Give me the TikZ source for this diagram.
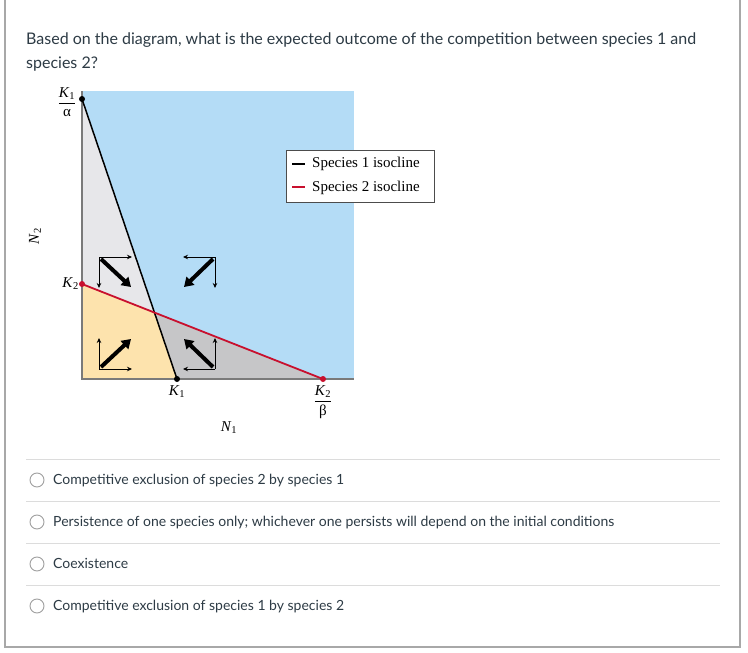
\documentclass[tikz,border=0pt]{standalone}
\usepackage{fontspec}
\newfontfamily\lato{Lato}
\newfontfamily\libser{Liberation Serif}
\usetikzlibrary{arrows.meta}
\definecolor{skyb}{HTML}{B4DCF6}
\definecolor{lgray}{HTML}{E7E7EA}
\definecolor{dgray}{HTML}{C6C6C8}
\definecolor{peach}{HTML}{FDE3AD}
\definecolor{isored}{HTML}{C8102E}
\definecolor{framec}{HTML}{A8A8A8}
\definecolor{sepc}{HTML}{DCDCDC}
\definecolor{radioc}{HTML}{A0A0A0}
\definecolor{qtext}{HTML}{2D3B45}
\definecolor{axisc}{HTML}{7A7A7A}
\newcommand{\Kk}[1]{\textit{K}\textsubscript{#1}}
\newcommand{\myfrac}[2]{$\displaystyle\frac{\mbox{#1}}{\mbox{#2}}$}
\tikzset{
  qstyle/.style={anchor=base west, inner sep=0pt, font=\lato\fontsize{16}{19}\selectfont, text=qtext},
  optstyle/.style={anchor=base west, inner sep=0pt, font=\lato\fontsize{14}{17}\selectfont, text=qtext},
  radiobtn/.style={circle, draw=radioc, line width=0.9pt, fill=white, minimum size=14pt, inner sep=0pt},
  sepline/.style={sepc, line width=1pt},
  axisline/.style={axisc, line width=1.6pt},
  isoone/.style={black, line width=1.5pt},
  isotwo/.style={isored, line width=1.8pt},
  lbl/.style={inner sep=0pt, font=\libser\fontsize{15}{17}\selectfont},
  thinarr/.style={line width=0.8pt, -{Stealth[length=5pt,width=4.5pt]}},
  thickarr/.style={line width=4pt, -{Triangle[length=9pt,width=11pt]}},
  dotb/.style={circle, fill=black, minimum size=6pt, inner sep=0pt},
  dotr/.style={circle, fill=isored, minimum size=6pt, inner sep=0pt},
}
\begin{document}
\begin{tikzpicture}[x=1pt,y=-1pt]
\useasboundingbox (0,0) rectangle (748,653);
\fill[white] (0,0) rectangle (748,653);
\draw[framec, line width=1.5pt] (5,0) -- (5,647) -- (740,647) -- (740,0);
% question
\node[qstyle] (q1) at (26,44.5) {Based on the diagram, what is the expected outcome of the competition between species 1 and};
\node[qstyle] (q2) at (26,68) {species 2?};
% diagram points
\coordinate (O) at (82,379);
\coordinate (A) at (82,99);
\coordinate (B) at (177,379);
\coordinate (C) at (82,284);
\coordinate (D) at (323,379);
\coordinate (I) at (intersection of A--B and C--D);
\fill[skyb] (82,91) rectangle (354,379);
\fill[lgray] (A) -- (I) -- (C) -- cycle;
\fill[peach] (C) -- (I) -- (B) -- (O) -- cycle;
\fill[dgray] (I) -- (D) -- (B) -- cycle;
\draw[axisline] (82,91) -- (O) -- (354,379);
\draw[isoone] (A) -- (B);
\draw[isotwo] (C) -- (D);
\node[dotb] (pA) at (A) {};
\node[dotb] (pB) at (B) {};
\node[dotr] (pC) at (C) {};
\node[dotr] (pD) at (D) {};
% vector arrows
% upper left
\coordinate (ul) at (99,257);
\coordinate (ulx) at (132,257);
\coordinate (uly) at (99,288);
\coordinate (ult) at (131,287);
\draw[thinarr] (ul) -- (ulx);
\draw[thinarr] (ul) -- (uly);
\draw[thickarr] (101,259) -- (ult);
% upper right
\coordinate (ur) at (215,257);
\coordinate (urx) at (183,257);
\coordinate (ury) at (215,288);
\coordinate (urt) at (184,287);
\draw[thinarr] (ur) -- (urx);
\draw[thinarr] (ur) -- (ury);
\draw[thickarr] (213,259) -- (urt);
% lower left
\coordinate (ll) at (99,369);
\coordinate (llx) at (132,369);
\coordinate (lly) at (99,338);
\coordinate (llt) at (131,339);
\draw[thinarr] (ll) -- (llx);
\draw[thinarr] (ll) -- (lly);
\draw[thickarr] (101,367) -- (llt);
% lower right
\coordinate (lr) at (215,369);
\coordinate (lrx) at (183,369);
\coordinate (lry) at (215,338);
\coordinate (lrt) at (184,339);
\draw[thinarr] (lr) -- (lrx);
\draw[thinarr] (lr) -- (lry);
\draw[thickarr] (213,367) -- (lrt);
% labels
\node[lbl] (lA) at (67,102) {\myfrac{\Kk{1}}{α}};
\node[lbl, anchor=east] (lC) at (79,284) {\Kk{2}};
\node[lbl] (lB) at (177,392) {\Kk{1}};
\node[lbl] (lD) at (323,402) {\myfrac{\Kk{2}}{β}};
\node[lbl] (n1) at (229,428) {\textit{N}\textsubscript{1}};
\node[lbl, rotate=90] (n2) at (35,236) {\textit{N}\textsubscript{2}};
% legend
\draw[black!70, line width=0.9pt, fill=white] (286,150) rectangle (434,202);
\coordinate (k1a) at (292,164);
\coordinate (k1b) at (305,164);
\coordinate (k2a) at (292,187);
\coordinate (k2b) at (305,187);
\draw[black, line width=2pt] (k1a) -- (k1b);
\draw[isored, line width=2pt] (k2a) -- (k2b);
\node[lbl, anchor=west] (t1) at (312,164) {Species 1 isocline};
\node[lbl, anchor=west] (t2) at (312,187.5) {Species 2 isocline};
% options
\draw[sepline] (26,459) -- (720,459);
\draw[sepline] (26,501) -- (720,501);
\draw[sepline] (26,543) -- (720,543);
\draw[sepline] (26,585) -- (720,585);
\node[radiobtn] (r1) at (37,480) {};
\node[radiobtn] (r2) at (37,522) {};
\node[radiobtn] (r3) at (37,564) {};
\node[radiobtn] (r4) at (37,606) {};
\node[optstyle] (o1) at (53,484.5) {Competitive exclusion of species 2 by species 1};
\node[optstyle] (o2) at (53,526.5) {Persistence of one species only; whichever one persists will depend on the initial conditions};
\node[optstyle] (o3) at (53,568.5) {Coexistence};
\node[optstyle] (o4) at (53,610.5) {Competitive exclusion of species 1 by species 2};
\end{tikzpicture}
\end{document}
